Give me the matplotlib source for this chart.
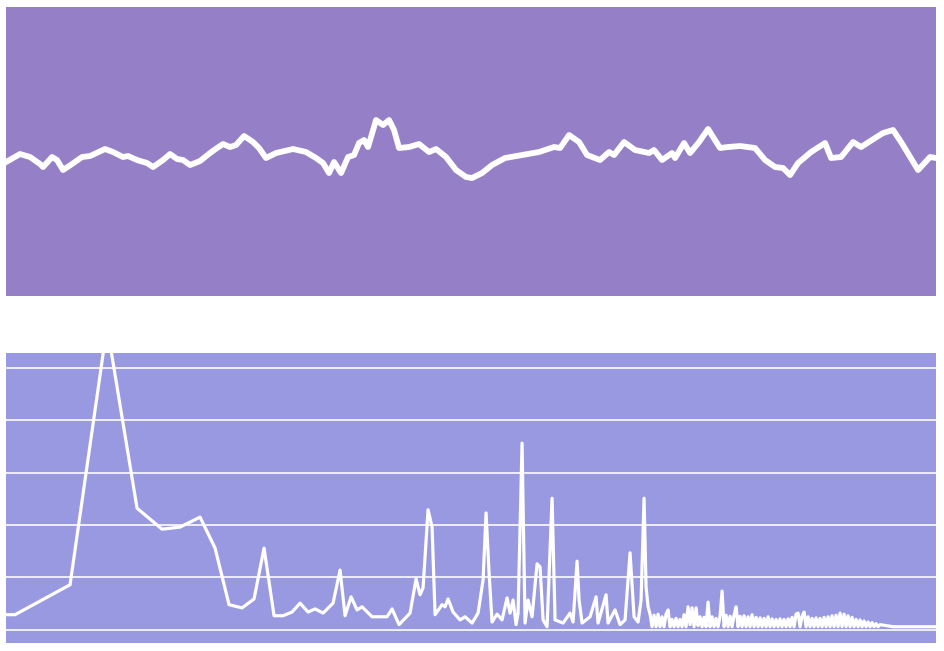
import numpy as np
import matplotlib.pyplot as plt

# top panel: signal trace (x position, level)
t = [6, 20, 30, 40, 43, 52, 57, 63, 72, 82, 90, 105, 113, 123, 128, 137, 147,
     153, 163, 170, 177, 183, 190, 200, 210, 217, 223, 230, 236, 244, 253, 259,
     266, 276, 293, 306, 316, 323, 329, 334, 341, 348, 354, 359, 364, 368, 376,
     383, 389, 394, 399, 409, 419, 429, 436, 446, 456, 466, 472, 482, 492, 505,
     522, 539, 554, 560, 569, 579, 587, 600, 609, 614, 624, 635, 649, 654, 662,
     672, 675, 684, 690, 699, 708, 713, 720, 728, 740, 755, 765, 775, 783, 790,
     798, 811, 825, 831, 841, 853, 861, 875, 883, 893, 901, 918, 930, 936]
signal = [-1.0, -0.2, -0.5, -1.2, -1.5, -0.5, -0.8, -1.8, -1.2, -0.5, -0.4,
          0.3, 0.0, -0.5, -0.4, -0.8, -1.1, -1.5, -0.8, -0.2, -0.7, -0.8, -1.3,
          -0.9, -0.1, 0.4, 0.8, 0.5, 0.7, 1.6, 1.0, 0.4, -0.6, -0.1, 0.3, 0.0,
          -0.6, -1.1, -2.1, -1.0, -2.1, -0.5, -0.3, 0.9, 1.2, 0.5, 3.2, 2.7,
          3.2, 2.2, 0.4, 0.5, 0.8, 0.0, 0.3, -0.5, -1.8, -2.5, -2.6, -2.1, -1.3,
          -0.6, -0.3, 0.0, 0.5, 0.4, 1.7, 1.0, -0.3, -0.8, 0.0, -0.3, 1.0, 0.2,
          -0.1, 0.2, -0.8, -0.1, -0.6, 0.9, -0.1, 1.0, 2.3, 1.5, 0.4, 0.5, 0.6,
          0.4, -0.8, -1.5, -1.6, -2.3, -1.1, 0.0, 0.9, -0.6, -0.5, 1.0, 0.5,
          1.4, 1.9, 2.2, 1.0, -1.8, -0.5, -0.6]

# bottom panel: spectrum (bin, magnitude), low bins
freq = [6, 15, 70, 107, 137, 162, 180, 200, 215, 229, 242, 254, 264, 274, 283,
        292, 300, 308, 315, 323, 333, 340, 345, 351, 357, 362, 372, 387, 392,
        399, 410, 416, 420, 423, 428, 432, 435, 442, 445, 448, 453, 460, 465,
        472, 478, 483, 486, 489, 492, 497, 502, 507, 510, 513, 516, 518, 522,
        525, 528, 532, 537, 540, 543, 547, 552, 555, 563, 570, 573, 577, 579,
        582, 590, 596, 598, 606, 608, 615, 620, 625, 630, 634, 638, 641, 644,
        646, 648]
power = [0.29, 0.29, 0.86, 5.79, 2.32, 1.92, 1.96, 2.15, 1.56, 0.48, 0.42,
         0.59, 1.56, 0.27, 0.27, 0.34, 0.51, 0.34, 0.40, 0.32, 0.51, 1.14,
         0.27, 0.63, 0.38, 0.44, 0.25, 0.25, 0.40, 0.10, 0.32, 0.97, 0.67,
         0.80, 2.29, 1.96, 0.29, 0.48, 0.44, 0.59, 0.34, 0.19, 0.25, 0.13,
         0.32, 0.95, 2.23, 1.09, 0.15, 0.30, 0.19, 0.61, 0.32, 0.57, 0.10,
         0.32, 3.56, 0.13, 0.57, 0.25, 1.26, 1.20, 0.19, 0.06, 2.51, 0.19,
         0.13, 0.32, 0.15, 1.31, 0.57, 0.13, 0.25, 0.63, 0.13, 0.67, 0.13,
         0.38, 0.10, 0.19, 1.47, 0.25, 0.15, 0.57, 2.51, 0.82, 0.44]

# high bins, every 2nd bin from 650 to 880 (dense noise floor)
floor_freq = np.arange(650, 882, 2)
floor_power = [0.30, 0.06, 0.28, 0.06, 0.30, 0.06, 0.25, 0.06, 0.30, 0.38,
               0.06, 0.20, 0.06, 0.22, 0.06, 0.20, 0.06, 0.29, 0.06, 0.44,
               0.10, 0.42, 0.06, 0.42, 0.08, 0.25, 0.06, 0.24, 0.06, 0.53,
               0.06, 0.25, 0.06, 0.22, 0.06, 0.26, 0.74, 0.06, 0.28, 0.06,
               0.26, 0.06, 0.28, 0.44, 0.06, 0.26, 0.06, 0.27, 0.06, 0.25,
               0.06, 0.29, 0.06, 0.24, 0.06, 0.23, 0.06, 0.22, 0.06, 0.25,
               0.06, 0.21, 0.06, 0.20, 0.06, 0.21, 0.06, 0.20, 0.06, 0.21,
               0.06, 0.24, 0.06, 0.30, 0.32, 0.06, 0.26, 0.34, 0.06, 0.25,
               0.06, 0.22, 0.06, 0.23, 0.06, 0.22, 0.06, 0.24, 0.06, 0.25,
               0.06, 0.27, 0.06, 0.28, 0.06, 0.32, 0.06, 0.30, 0.06, 0.27,
               0.06, 0.24, 0.06, 0.20, 0.06, 0.19, 0.06, 0.17, 0.06, 0.15,
               0.06, 0.14, 0.06, 0.12, 0.06, 0.10]

tail_freq = [893, 913, 935]
tail_power = [0.06, 0.06, 0.06]

grid_levels = [0, 1, 2, 3, 4, 5]

fig = plt.figure(figsize=(9.44, 6.51), dpi=100)

ax1 = fig.add_axes([0.0064, 0.5453, 0.9852, 0.4439])
ax1.set_facecolor('#9580c8')
ax1.plot(t, signal,
         color='white',
         linewidth=4.2,
         solid_joinstyle='round')
ax1.set_xlim(6, 936)
ax1.set_ylim(-14.4, 14.5)
ax1.set_xticks([])
ax1.set_yticks([])
for s in ax1.spines.values():
    s.set_visible(False)

ax2 = fig.add_axes([0.0064, 0.0123, 0.9852, 0.4455])
ax2.set_facecolor('#9999e2')
for g in grid_levels:
    ax2.axhline(g, color='white', linewidth=1.3, alpha=0.9, zorder=1)
x_all = list(freq) + list(floor_freq) + tail_freq
y_all = list(power) + list(floor_power) + tail_power
ax2.plot(x_all, y_all,
         color='white',
         linewidth=2.3,
         zorder=2)
ax2.set_xlim(6, 936)
ax2.set_ylim(-0.25, 5.28)
ax2.set_xticks([])
ax2.set_yticks([])
for s in ax2.spines.values():
    s.set_visible(False)

plt.savefig('out.png', dpi=100, format='png')
